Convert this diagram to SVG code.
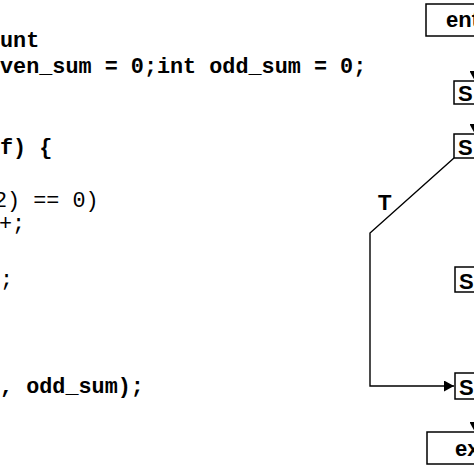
<svg xmlns="http://www.w3.org/2000/svg" width="474" height="474" viewBox="0 0 474 474">
<style>
.code{font-family:"Liberation Mono","Courier New",monospace;font-size:21.8px;fill:#000;}
.b{font-weight:bold;}
.box{fill:#fff;stroke:#000;stroke-width:1.5;}
.lbl{font-family:"Liberation Sans",Arial,sans-serif;font-weight:bold;font-size:22px;fill:#000;}
.edge{fill:none;stroke:#000;stroke-width:1.4;}
</style>
<defs>
<marker id="ah" markerUnits="userSpaceOnUse" markerWidth="10" markerHeight="11" refX="10" refY="5.5" orient="auto">
<path d="M0,0 L10,5.5 L0,11 z" fill="#000"/>
</marker>
</defs>
<rect width="474" height="474" fill="#fff"/>
<g id="code">
<text class="code b" x="0" y="47">unt</text>
<text class="code b" x="0" y="73">ven_sum = 0;int odd_sum = 0;</text>
<text class="code b" x="0" y="154">f) {</text>
<text class="code" x="-6" y="207">2) == 0)</text>
<text class="code" x="-1" y="230">+;</text>
<text class="code" x="0" y="286">;</text>
<text class="code b" x="0" y="393">, odd_sum);</text>
</g>
<g id="connectors">
<path class="edge" d="M475,36 L475,81" marker-end="url(#ah)"/>
<path class="edge" d="M475,104 L475,134" marker-end="url(#ah)"/>
<path class="edge" d="M475,399 L475,432" marker-end="url(#ah)"/>
<path class="edge" d="M454,158 L370,233 L370,386 L454,386" marker-end="url(#ah)"/>
<text class="lbl" x="378" y="210" font-size="21">T</text>
</g>
<g id="entry">
<rect class="box" x="426" y="4" width="80" height="32"/>
<text class="lbl" x="446" y="27">ent</text>
</g>
<g id="s1">
<rect class="box" x="454" y="81" width="40" height="23"/>
<text class="lbl" x="458" y="101">S</text>
</g>
<g id="s2">
<rect class="box" x="454" y="134" width="40" height="24"/>
<text class="lbl" x="458" y="155">S</text>
</g>
<g id="s3">
<rect class="box" x="455" y="267" width="40" height="25"/>
<text class="lbl" x="459" y="289">S</text>
</g>
<g id="s4">
<rect class="box" x="455" y="373" width="40" height="26"/>
<text class="lbl" x="459" y="395">S</text>
</g>
<g id="exit">
<rect class="box" x="427" y="432" width="80" height="32"/>
<text class="lbl" x="455" y="456">ex</text>
</g>
</svg>
